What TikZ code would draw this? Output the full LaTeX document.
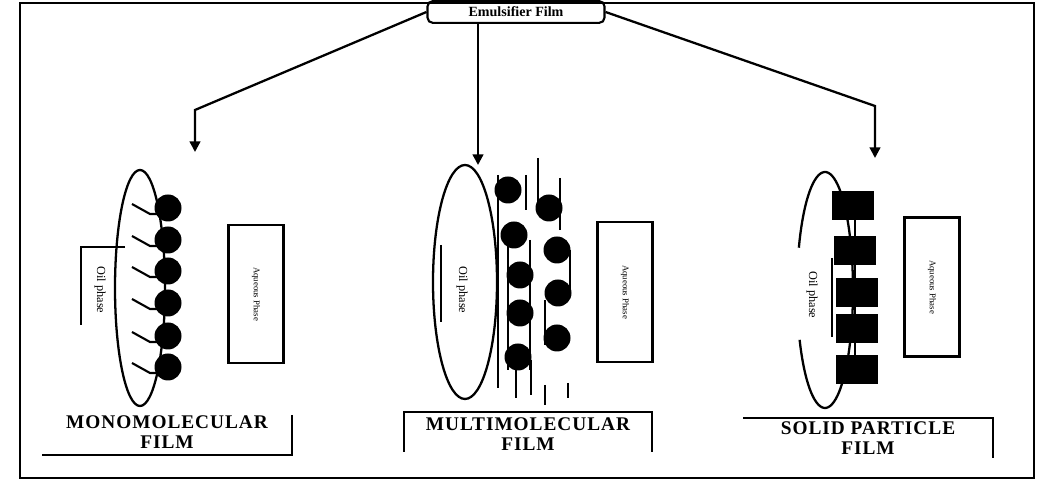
\documentclass[tikz,border=0pt]{standalone}
\usepackage{fontspec}
\setmainfont{Liberation Serif}
\usetikzlibrary{arrows.meta}
\begin{document}
\begin{tikzpicture}[x=0.02cm,y=-0.02cm,
  ln/.style={line width=0.9pt},
  arr/.style={line width=1.3pt,-{Triangle[length=6pt,width=6pt]}},
  ball/.style={circle,fill=black,minimum size=27*0.02cm,inner sep=0},
  sq/.style={rectangle,fill=black,minimum width=42*0.02cm,minimum height=29*0.02cm,inner sep=0},
  lab/.style={font=\bfseries\fontsize{11}{11}\selectfont\addfontfeature{LetterSpace=5},align=center},
  vt/.style={rotate=-90,font=\fontsize{7}{7}\selectfont},
  aq/.style={rotate=-90,font=\fontsize{5}{5}\selectfont}]
\useasboundingbox (0,0) rectangle (1055,502);
\draw[line width=1.2pt] (20,3) rectangle (1034,478);
% top
\node[draw,line width=1.2pt,rounded corners=3pt,minimum width=177*0.02cm,minimum height=18*0.02cm,font=\bfseries\fontsize{8}{8}\selectfont] (top) at (516,12) {Emulsifier Film};
\coordinate (b1) at (195,110); \coordinate (e1) at (195,152);
\coordinate (e2) at (478,165);
\coordinate (b3) at (875,106); \coordinate (e3) at (875,158);
\draw[arr] (top.west) -- (b1) -- (e1);
\draw[arr] (top.south west -| e2) -- (e2);
\draw[arr] (top.east) -- (b3) -- (e3);
% left
\draw[line width=1.3pt] (140,288) ellipse [x radius=25, y radius=118];
\foreach \y in {208,240,271,303,336,367}{
  \draw[line width=1.2pt] (132,\y-4) -- (150,\y+6) -- (158,\y+6);
  \node[ball] at (168,\y) {};}
\draw[ln] (125,247) -- (81,247) -- (81,325);
\node[vt] (o1) at (100,290) {Oil phase};
\node[draw,line width=1.3pt,minimum width=55*0.02cm,minimum height=138*0.02cm] (a1) at (256,294) {};
\node[aq] at (a1) {Aqueous Phase};
\node[lab] (l1) at (167,432) {MONOMOLECULAR\\FILM};
\draw[ln] (292,415) -- (292,455) -- (42,455);
% middle
\draw[line width=1.3pt] (465,282) ellipse [x radius=32, y radius=117];
\draw[ln] (441,245) -- (441,322);
\node[vt] at (462,290) {Oil phase};
\foreach \x/\y in {508/190,514/235,520/275,520/313,518/357,549/208,557/250,558/293,557/338}{
  \node[ball] at (\x,\y) {};}
\foreach \x/\a/\b in {498/175/388,526/175/210,538/158/205,560/178/230,516/360/398,531/360/395,545/385/405,568/383/398,508/240/370,530/240/370,545/300/345,570/250/290}{
  \draw[ln] (\x,\a) -- (\x,\b);}
\node[draw,line width=1.3pt,minimum width=55*0.02cm,minimum height=140*0.02cm] (a2) at (625,292) {};
\node[aq] at (a2) {Aqueous Phase};
\node[lab] (l2) at (528,434) {MULTIMOLECULAR\\FILM};
\draw[ln] (404,452) -- (404,412) -- (652,412) -- (652,452);
% right
\draw[line width=1.3pt] plot[domain=201:515,samples=80,smooth] ({825+28*cos(\x)},{290+118*sin(\x)});
\draw[ln] (855,200) -- (855,375);
\foreach \x/\y in {853/206,855/251,857/293,857/329,857/370}{
  \node[sq] at (\x,\y) {};}
\draw[ln] (832,258) -- (832,337);
\node[vt] at (812,295) {Oil phase};
\node[draw,line width=1.3pt,minimum width=55*0.02cm,minimum height=139*0.02cm] (a3) at (932,287) {};
\node[aq] at (a3) {Aqueous Phase};
\node[lab] (l3) at (868,438) {SOLID PARTICLE\\FILM};
\draw[ln] (743,418) -- (993,418) -- (993,458);
\end{tikzpicture}
\end{document}
